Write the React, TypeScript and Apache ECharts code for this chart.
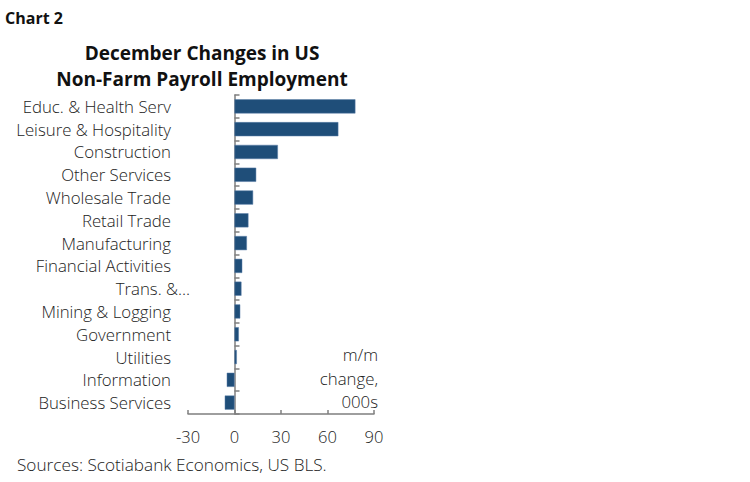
import React, { useEffect, useRef } from 'react';
import * as echarts from 'echarts';

// sectors, top to bottom as drawn
const categories = [
  'Educ. & Health Serv',
  'Leisure & Hospitality',
  'Construction',
  'Other Services',
  'Wholesale Trade',
  'Retail Trade',
  'Manufacturing',
  'Financial Activities',
  'Trans. &…',
  'Mining & Logging',
  'Government',
  'Utilities',
  'Information',
  'Business Services'
];

// m/m change, 000s
const changes = [78, 67, 28, 14, 12, 9, 8, 5, 4.5, 3.7, 2.8, 1.5, -5, -6.3];

const xTicks = { min: -30, max: 90, interval: 30 };

const FONT = '"Open Sans", Lato, sans-serif';
const TEXT = '#222';
const AXIS = '#7f7f7f';

const App: React.FC = () => {
  const chartRef = useRef<HTMLDivElement>(null);

  useEffect(() => {
    document.body.style.margin = '0';
    if (!chartRef.current) return;
    const chart = echarts.init(chartRef.current, undefined, { renderer: 'svg' });

    const option = {
      animation: false,
      textStyle: { fontFamily: FONT, color: TEXT, fontWeight: 300 },
      title: [
        {
          text: 'Chart 2',
          left: 0,
          top: 5,
          textStyle: { fontSize: 16, fontWeight: 'bold', color: '#111', fontFamily: FONT }
        },
        {
          text: 'December Changes in US\nNon-Farm Payroll Employment',
          left: 197,
          top: 35,
          textAlign: 'center',
          textStyle: { fontSize: 19, fontWeight: 'bold', color: '#111', lineHeight: 26, fontFamily: FONT }
        },
        {
          text: 'Sources: Scotiabank Economics, US BLS.',
          left: 12,
          top: 451,
          textStyle: { fontSize: 17.2, fontWeight: 300, color: TEXT, fontFamily: FONT }
        }
      ],
      graphic: [
        {
          type: 'text',
          x: 378,
          y: 343,
          style: {
            text: 'm/m\nchange,\n000s',
            align: 'right',
            verticalAlign: 'top',
            fontSize: 16.8,
            lineHeight: 23.5,
            fontWeight: 300,
            fontFamily: FONT,
            fill: TEXT
          }
        }
      ],
      grid: { left: 188, right: 376, top: 95, bottom: 68, outerBoundsMode: 'none', containLabel: false },
      xAxis: {
        type: 'value',
        min: xTicks.min,
        max: xTicks.max,
        interval: xTicks.interval,
        splitLine: { show: false },
        axisLine: { show: true, lineStyle: { color: AXIS, width: 1.5 } },
        axisTick: { show: true, inside: true, length: 4, lineStyle: { color: AXIS, width: 1.5 } },
        axisLabel: { fontSize: 16.5, color: TEXT, margin: 14, fontFamily: FONT, fontWeight: 300 }
      },
      yAxis: {
        type: 'category',
        inverse: true,
        data: categories.map((c) =>
          c === 'Trans. &…' ? { value: c, textStyle: { padding: [0, -19, 0, 0] } } : c
        ),
        axisLine: { show: true, onZero: true, lineStyle: { color: AXIS, width: 1.5 } },
        axisTick: { show: true, inside: true, length: 5, lineStyle: { color: AXIS, width: 1.5 } },
        axisLabel: { fontSize: 16.8, color: TEXT, margin: 17, fontFamily: FONT, fontWeight: 300 }
      },
      series: [
        {
          type: 'bar',
          data: changes,
          barWidth: '62%',
          itemStyle: { color: '#1f4e79', borderColor: '#5a7fa8', borderWidth: 0.5 }
        }
      ]
    };

    chart.setOption(option);
    return () => {
      chart.dispose();
    };
  }, []);

  return <div ref={chartRef} style={{ width: 750, height: 482 }} />;
};

export default App;
